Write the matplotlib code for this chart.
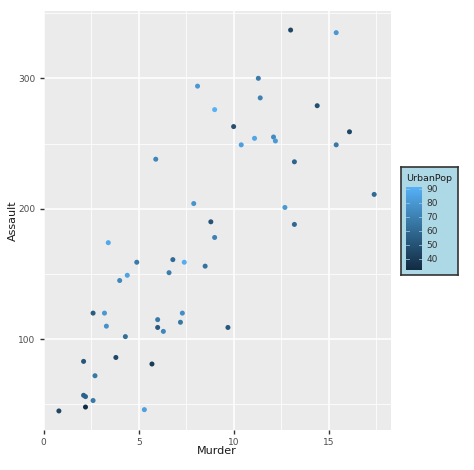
import numpy as np
import matplotlib
matplotlib.use("Agg")
import matplotlib.pyplot as plt
from matplotlib.colors import LinearSegmentedColormap, Normalize

# USArrests: Murder, Assault, UrbanPop
murder = [13.2, 10.0, 8.1, 8.8, 9.0, 7.9, 3.3, 5.9, 15.4, 17.4,
          5.3, 2.6, 10.4, 7.2, 2.2, 6.0, 9.7, 15.4, 2.1, 11.3,
          4.4, 12.1, 2.7, 16.1, 9.0, 6.0, 4.3, 12.2, 2.1, 7.4,
          11.4, 11.1, 13.0, 0.8, 7.3, 6.6, 4.9, 6.3, 3.4, 14.4,
          3.8, 13.2, 12.7, 3.2, 2.2, 8.5, 4.0, 5.7, 2.6, 6.8]
assault = [236, 263, 294, 190, 276, 204, 110, 238, 335, 211,
           46, 120, 249, 113, 56, 115, 109, 249, 83, 300,
           149, 255, 72, 259, 178, 109, 102, 252, 57, 159,
           285, 254, 337, 45, 120, 151, 159, 106, 174, 279,
           86, 188, 201, 120, 48, 156, 145, 81, 53, 161]
urbanpop = [58, 48, 80, 50, 91, 78, 77, 72, 80, 60,
            83, 54, 83, 65, 57, 66, 52, 66, 51, 67,
            85, 74, 66, 44, 70, 53, 62, 81, 56, 89,
            70, 86, 45, 44, 75, 68, 67, 72, 87, 48,
            45, 59, 80, 80, 32, 63, 73, 39, 66, 60]
x_ticks = [0, 5, 10, 15]
y_ticks = [100, 200, 300]
cbar_ticks = [40, 50, 60, 70, 80, 90]

W, H = 474, 470
fig = plt.figure(figsize=(W / 100, H / 100), dpi=100)

cmap = LinearSegmentedColormap.from_list(
    "gg", ["#132B43", "#1F4563", "#2C6086", "#3A7CAB", "#4896D0", "#56B1F7"])
norm = Normalize(vmin=min(urbanpop), vmax=max(urbanpop))

ax = fig.add_axes([43.7 / W, 1 - 430 / H, (390.7 - 43.7) / W, (430 - 11) / H])
ax.set_facecolor("#EBEBEB")
ax.set_xlim(0, 18.27)
ax.set_ylim(30.4, 351.6)
ax.set_xticks(x_ticks)
ax.set_yticks(y_ticks)
ax.set_xticks([2.5, 7.5, 12.5, 17.5], minor=True)
ax.set_yticks([50, 150, 250, 350], minor=True)
ax.grid(True, which="major", color="white", linewidth=1.1)
ax.grid(True, which="minor", color="white", linewidth=0.55)
ax.set_axisbelow(True)
for s in ax.spines.values():
    s.set_visible(False)
ax.tick_params(which="major", length=3, width=1, color="#333333",
               labelsize=6.5, labelcolor="#4D4D4D", pad=3)
ax.tick_params(which="minor", length=0)

ax.scatter(murder, assault, c=urbanpop, cmap=cmap, norm=norm, s=13,
           linewidths=0, zorder=3)
ax.set_xlabel("Murder", fontsize=8, color="#1A1A1A")
ax.set_ylabel("Assault", fontsize=8, color="#1A1A1A")
ax.xaxis.set_label_coords(0.5, -(451 - 430) / 419, transform=ax.transAxes)
ax.yaxis.set_label_coords(-(43.7 - 13) / 347, 0.5, transform=ax.transAxes)
ax.xaxis.label.set_va("center")
ax.yaxis.label.set_va("center")

# legend box
lg = fig.add_axes([401 / W, 1 - 275 / H, 57 / W, 108 / H])
lg.set_facecolor("#ADD8E6")
lg.set_xticks([])
lg.set_yticks([])
for s in lg.spines.values():
    s.set_color("#333333")
    s.set_linewidth(1.2)
lg.text(0.5, 0.895, "UrbanPop", transform=lg.transAxes, ha="center",
        va="center", fontsize=6.8, color="#1A1A1A")

cb = fig.add_axes([406 / W, 1 - 270 / H, 16 / W, 82.6 / H])
grad = np.linspace(norm.vmin, norm.vmax, 200).reshape(-1, 1)
cb.imshow(grad, aspect="auto", cmap=cmap, norm=norm, origin="lower",
          extent=[0, 1, norm.vmin, norm.vmax])
cb.set_xticks([])
cb.set_yticks(cbar_ticks)
cb.yaxis.tick_right()
cb.tick_params(axis="y", length=0, labelsize=6.5, labelcolor="#333333", pad=3)
for t in cbar_ticks:
    cb.plot([0, 0.2], [t, t], color="#9FBFD8", lw=0.6)
    cb.plot([0.8, 1], [t, t], color="#9FBFD8", lw=0.6)
cb.set_xlim(0, 1)
cb.set_ylim(norm.vmin, norm.vmax)
for s in cb.spines.values():
    s.set_visible(False)

fig.savefig("out.png", dpi=100, facecolor="white")
